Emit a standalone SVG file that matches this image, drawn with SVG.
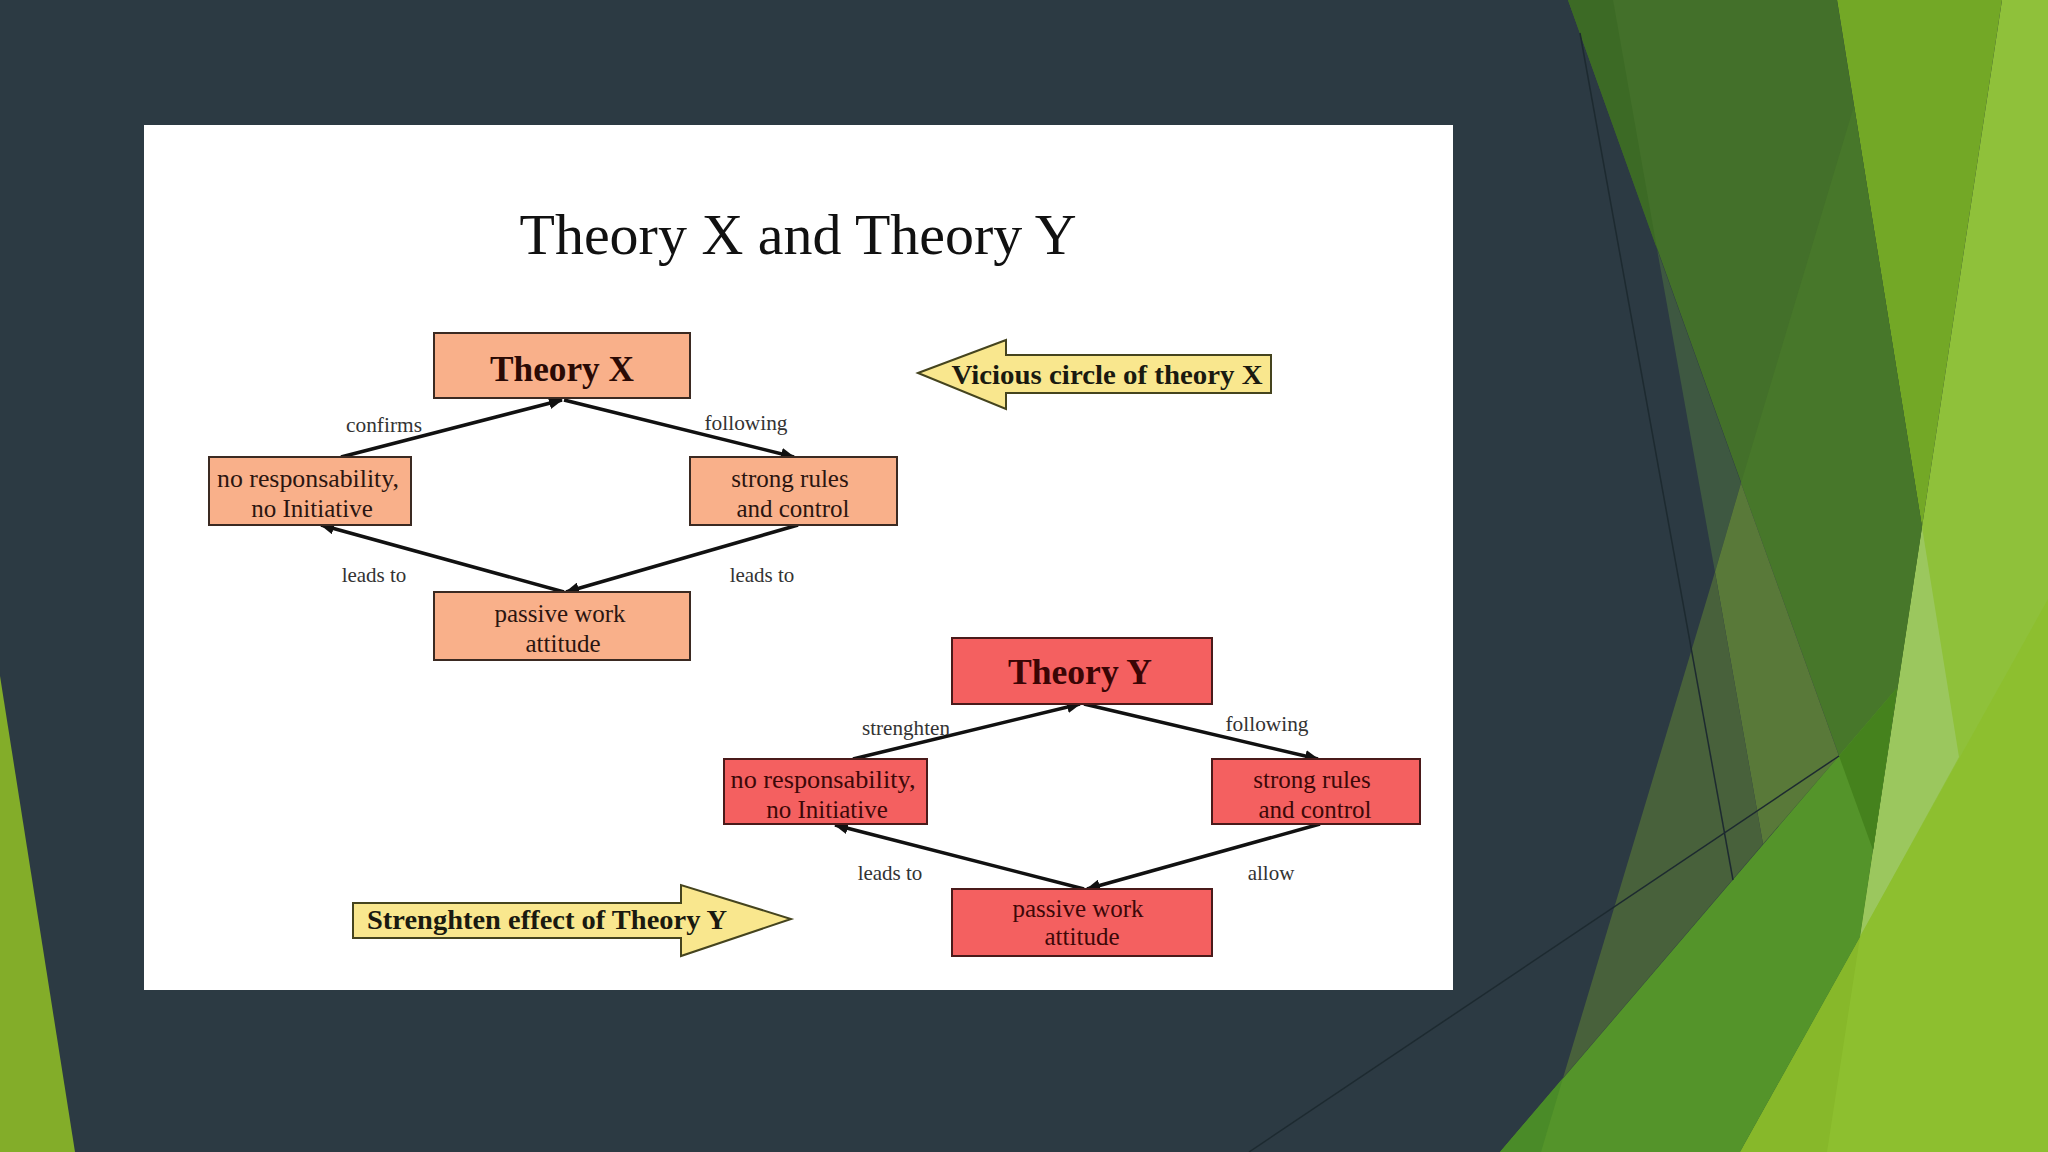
<svg xmlns="http://www.w3.org/2000/svg" width="2048" height="1152" viewBox="0 0 2048 1152">
<defs>
<style>
.serif{font-family:"Liberation Serif","Times New Roman",serif;}
.boxx{fill:#F9B08A;stroke:#3B2A22;stroke-width:2;}
.boxy{fill:#F46060;stroke:#4A1A1A;stroke-width:2;}
.tx{font-family:"Liberation Serif","Times New Roman",serif;font-size:25px;fill:#2B1510;text-anchor:middle;}
.ty{font-family:"Liberation Serif","Times New Roman",serif;font-size:25px;fill:#3D0808;text-anchor:middle;}
.head{font-family:"Liberation Serif","Times New Roman",serif;font-size:36px;font-weight:bold;text-anchor:middle;}
.lbl{font-family:"Liberation Serif","Times New Roman",serif;font-size:21px;fill:#333333;text-anchor:middle;}
.conn{stroke:#111111;stroke-width:3.5;fill:none;marker-end:url(#ah);}
.banner{fill:#F9E78E;stroke:#45441E;stroke-width:2;}
.btxt{font-family:"Liberation Serif","Times New Roman",serif;font-size:28px;font-weight:bold;fill:#1A1A10;text-anchor:middle;}
.thin{stroke:#1D2A30;stroke-width:1.5;fill:none;}
</style>
<marker id="ah" viewBox="0 0 14 12" refX="13" refY="6" markerWidth="14" markerHeight="12" markerUnits="userSpaceOnUse" orient="auto">
<path d="M0,0 L14,6 L0,12 z" fill="#111111"/>
</marker>
</defs>

<g id="background">
<rect x="0" y="0" width="2048" height="1152" fill="#2C3A43"/>
<polygon points="0,676 75,1152 0,1152" fill="#83AD29"/>
<polygon points="2002,0 2048,0 2048,1152 1827,1152" fill="#8FC13A"/>
<polygon points="1837,0 2002,0 1922,527" fill="#73A826"/>
<polygon points="1922,527 1959,757 1860,937" fill="#9BC75E"/>
<polygon points="2048,599 2048,1152 1740,1152" fill="#8DBF2F"/>
<polygon points="1860,937 1827,1152 1740,1152" fill="#87B82A"/>
<polygon points="1568,0 1837,0 1922,527 1873,850" fill="#43702A"/>
<polygon points="1568,0 1613,0 1657,249" fill="#3C6A25"/>
<polygon points="1854,106 1922,527 1873,850 1741,483" fill="#47772A"/>
<polygon points="1657,249 1741,483 1715,572" fill="#3E5841"/>
<polygon points="1741,483 1715,572 1763,844 1839,756" fill="#597939"/>
<polygon points="1715,572 1563,1078 1763,844" fill="#48613B"/>
<polygon points="1500,1152 1897,688 1860,937 1740,1152" fill="#54942A"/>
<polygon points="1839,756 1897,688 1873,850" fill="#45821D"/>
<polygon points="1500,1152 1563,1078 1541,1152" fill="#4A8B28"/>
<line class="thin" x1="1580" y1="33" x2="1733" y2="880"/>
<line class="thin" x1="1249" y1="1152" x2="1839" y2="756"/>
</g>

<g id="panel">
<rect x="144" y="125" width="1309" height="865" fill="#FFFFFF"/>
<text class="serif" x="798" y="254" font-size="58" fill="#111111" text-anchor="middle" textLength="557" lengthAdjust="spacingAndGlyphs">Theory X and Theory Y</text>
</g>

<g id="connectors">
<line class="conn" x1="341" y1="457" x2="562" y2="400"/>
<line class="conn" x1="564" y1="400" x2="794" y2="457"/>
<line class="conn" x1="564" y1="592" x2="321" y2="525"/>
<line class="conn" x1="798" y1="525" x2="566" y2="592"/>
<line class="conn" x1="853" y1="759" x2="1080" y2="704"/>
<line class="conn" x1="1084" y1="704" x2="1318" y2="759"/>
<line class="conn" x1="1084" y1="889" x2="835" y2="825"/>
<line class="conn" x1="1320" y1="824" x2="1087" y2="889"/>
<text class="lbl" x="384" y="432" textLength="76" lengthAdjust="spacingAndGlyphs">confirms</text>
<text class="lbl" x="746" y="430" textLength="83" lengthAdjust="spacingAndGlyphs">following</text>
<text class="lbl" x="374" y="582">leads to</text>
<text class="lbl" x="762" y="582">leads to</text>
<text class="lbl" x="906" y="735" textLength="88" lengthAdjust="spacingAndGlyphs">strenghten</text>
<text class="lbl" x="1267" y="731" textLength="83" lengthAdjust="spacingAndGlyphs">following</text>
<text class="lbl" x="890" y="880">leads to</text>
<text class="lbl" x="1271" y="880">allow</text>
</g>

<g id="theory-x">
<rect class="boxx" x="434" y="333" width="256" height="65"/>
<text class="head" x="562" y="381" fill="#2A0A05" textLength="144" lengthAdjust="spacingAndGlyphs">Theory X</text>
</g>
<g id="x-no-responsibility">
<rect class="boxx" x="209" y="457" width="202" height="68"/>
<text class="tx" x="308" y="487" textLength="182" lengthAdjust="spacingAndGlyphs">no responsability,</text>
<text class="tx" x="312" y="517">no Initiative</text>
</g>
<g id="x-strong-rules">
<rect class="boxx" x="690" y="457" width="207" height="68"/>
<text class="tx" x="790" y="487">strong rules</text>
<text class="tx" x="793" y="517">and control</text>
</g>
<g id="x-passive-work">
<rect class="boxx" x="434" y="592" width="256" height="68"/>
<text class="tx" x="560" y="622">passive work</text>
<text class="tx" x="563" y="652">attitude</text>
</g>

<g id="theory-y">
<rect class="boxy" x="952" y="638" width="260" height="66"/>
<text class="head" x="1080" y="684" fill="#3A0505" textLength="144" lengthAdjust="spacingAndGlyphs">Theory Y</text>
</g>
<g id="y-no-responsibility">
<rect class="boxy" x="724" y="759" width="203" height="65"/>
<text class="ty" x="823" y="788" textLength="185" lengthAdjust="spacingAndGlyphs">no responsability,</text>
<text class="ty" x="827" y="818">no Initiative</text>
</g>
<g id="y-strong-rules">
<rect class="boxy" x="1212" y="759" width="208" height="65"/>
<text class="ty" x="1312" y="788">strong rules</text>
<text class="ty" x="1315" y="818">and control</text>
</g>
<g id="y-passive-work">
<rect class="boxy" x="952" y="889" width="260" height="67"/>
<text class="ty" x="1078" y="917">passive work</text>
<text class="ty" x="1082" y="945">attitude</text>
</g>

<g id="vicious-circle-arrow">
<polygon class="banner" points="918,373 1006,340 1006,355 1271,355 1271,393 1006,393 1006,409"/>
<text class="btxt" x="1107" y="384" textLength="311" lengthAdjust="spacingAndGlyphs">Vicious circle of theory X</text>
</g>
<g id="strenghten-arrow">
<polygon class="banner" points="353,903 681,903 681,885 791,919 681,956 681,938 353,938"/>
<text class="btxt" x="547" y="929" textLength="360" lengthAdjust="spacingAndGlyphs">Strenghten effect of Theory Y</text>
</g>
</svg>
